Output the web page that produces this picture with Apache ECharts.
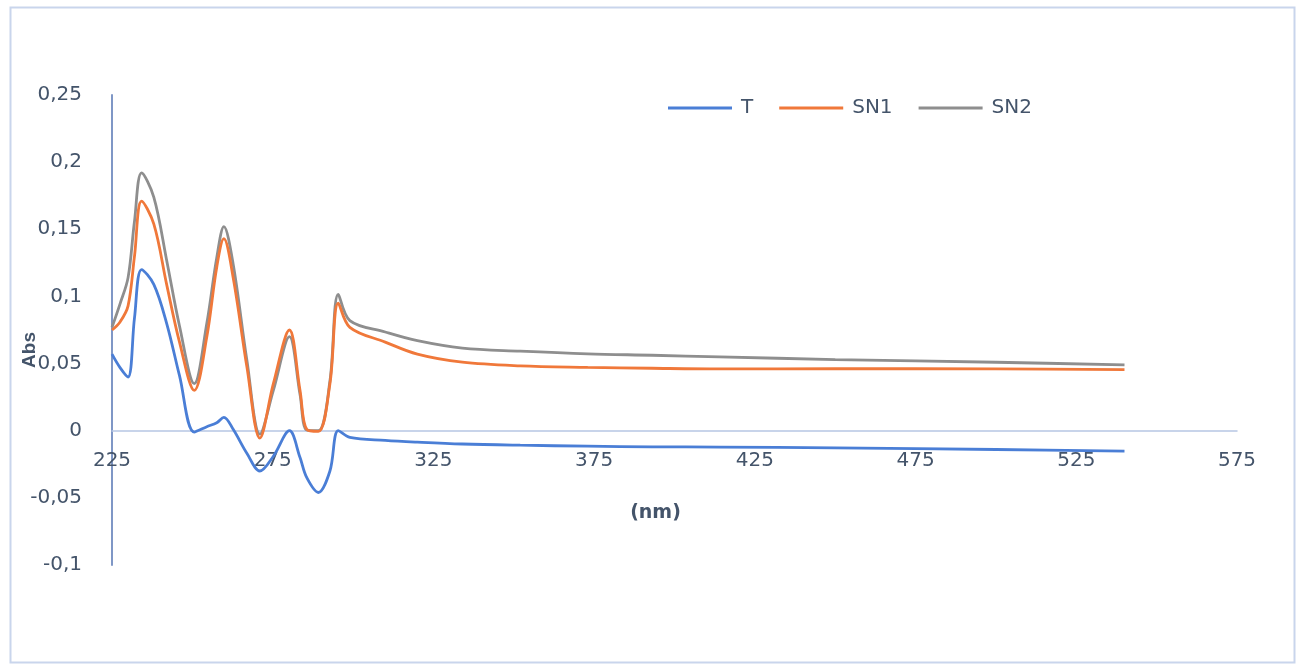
<!DOCTYPE html>
<html>
<head>
<meta charset="utf-8">
<script src="https://cdn.jsdelivr.net/npm/echarts@6/dist/echarts.min.js"></script>
<style>
html,body{margin:0;padding:0;background:#fff;}
#chart{width:1300px;height:665px;}
</style>
</head>
<body>
<div id="chart"></div>
<script>
// wavelengths (nm)
const wavelengths = [225, 227.5, 230, 232, 234.2, 238, 242, 246, 250.6, 254.5, 257.6, 259.8, 262.7, 267, 271, 275.2, 280.2, 283.5, 285.6, 289.2, 292.8, 295.4, 299, 310, 320, 334, 352, 373, 393, 414, 450, 500, 540];
const seriesT   = [0.057, 0.047, 0.040, 0.084, 0.120, 0.109, 0.080, 0.041, -0.001, 0.003, 0.006, 0.010, 0.001, -0.017, -0.030, -0.019, 0.000, -0.020, -0.035, -0.046, -0.030, 0.000, -0.005, -0.0072, -0.0085, -0.0099, -0.0108, -0.0115, -0.0120, -0.0122, -0.0128, -0.0140, -0.0152];
const seriesSN1 = [0.075, 0.081, 0.093, 0.130, 0.171, 0.154, 0.109, 0.066, 0.030, 0.070, 0.122, 0.143, 0.114, 0.047, -0.0055, 0.035, 0.075, 0.030, 0.001, -0.0005, 0.035, 0.095, 0.077, 0.066, 0.057, 0.051, 0.0483, 0.0472, 0.0465, 0.0460, 0.0462, 0.0460, 0.0455];
const seriesSN2 = [0.077, 0.0945, 0.114, 0.156, 0.192, 0.174, 0.127, 0.078, 0.035, 0.080, 0.129, 0.152, 0.124, 0.052, -0.0025, 0.030, 0.070, 0.027, 0.0005, 0.000, 0.037, 0.1015, 0.082, 0.0735, 0.067, 0.0615, 0.0592, 0.0572, 0.0562, 0.0550, 0.0530, 0.0510, 0.0490];
const seriesNames = ['T', 'SN1', 'SN2'];
const colors = ['#4a7ed6', '#f0783a', '#8e8e8e'];
const yTitle = 'Abs';
const xTitle = '(nm)';

const yMin = -0.1, yMax = 0.25;
const allSeries = [seriesT, seriesSN1, seriesSN2];
const pairs = arr => wavelengths.map((x, i) => [x, arr[i]]);
const fmt = v => String(Math.round(v * 100) / 100).replace('.', ',');

const gridTop = 95, gridBottom = 100, H = 665;
const plotH = H - gridTop - gridBottom;
const zeroOffset = plotH * (0 - yMin) / (yMax - yMin);

const FONT = "'DejaVu Sans', Verdana, sans-serif";
const TXT = '#44546a';

const chart = echarts.init(document.getElementById('chart'));
chart.setOption({
  backgroundColor: '#fff',
  animation: false,
  textStyle: { fontFamily: FONT },
  graphic: [{
    type: 'rect', left: 8, top: 5, z: -1,
    shape: { width: 1284, height: 655 },
    style: { fill: 'none', stroke: '#c9d5ec', lineWidth: 2 }
  }, {
    type: 'text', x: 30, y: 350, rotation: Math.PI / 2,
    style: {
      text: yTitle, fill: TXT, fontSize: 19, fontWeight: 'bold',
      fontFamily: "'Liberation Sans Narrow', 'Liberation Sans', Arial, sans-serif",
      align: 'center', verticalAlign: 'middle'
    }
  }],
  legend: {
    top: 98, left: 668, padding: 0,
    itemWidth: 64, itemHeight: 3, itemGap: 26,
    icon: 'rect',
    textStyle: { color: TXT, fontSize: 20, fontFamily: FONT, padding: [0, 0, 0, 4] },
    data: seriesNames
  },
  grid: { left: 112, right: 63, top: gridTop, bottom: gridBottom, containLabel: false, outerBoundsMode: 'none' },
  xAxis: {
    type: 'value', min: 225, max: 575, interval: 50,
    offset: -zeroOffset,
    name: xTitle, nameLocation: 'middle', nameGap: 73,
    nameTextStyle: { color: TXT, fontSize: 19, fontWeight: 'bold', fontFamily: FONT, padding: [0, 38, 0, 0] },
    axisLine: { onZero: false, lineStyle: { color: '#b7c6e4', width: 1.5 } },
    axisTick: { show: false },
    splitLine: { show: false },
    axisLabel: { color: TXT, fontSize: 20, margin: 20, fontFamily: FONT }
  },
  yAxis: {
    type: 'value', min: yMin, max: yMax, interval: 0.05,
    axisLine: { show: true, lineStyle: { color: '#7f97c6', width: 2 } },
    axisTick: { show: false },
    splitLine: { show: false },
    axisLabel: { color: TXT, fontSize: 20, margin: 30, formatter: fmt, fontFamily: FONT }
  },
  series: allSeries.map((arr, i) => ({
    name: seriesNames[i],
    type: 'line',
    data: pairs(arr),
    smooth: 0.35,
    showSymbol: false,
    lineStyle: { color: colors[i], width: 2.8 },
    itemStyle: { color: colors[i] },
    z: 3 - i
  }))
});
</script>
</body>
</html>
